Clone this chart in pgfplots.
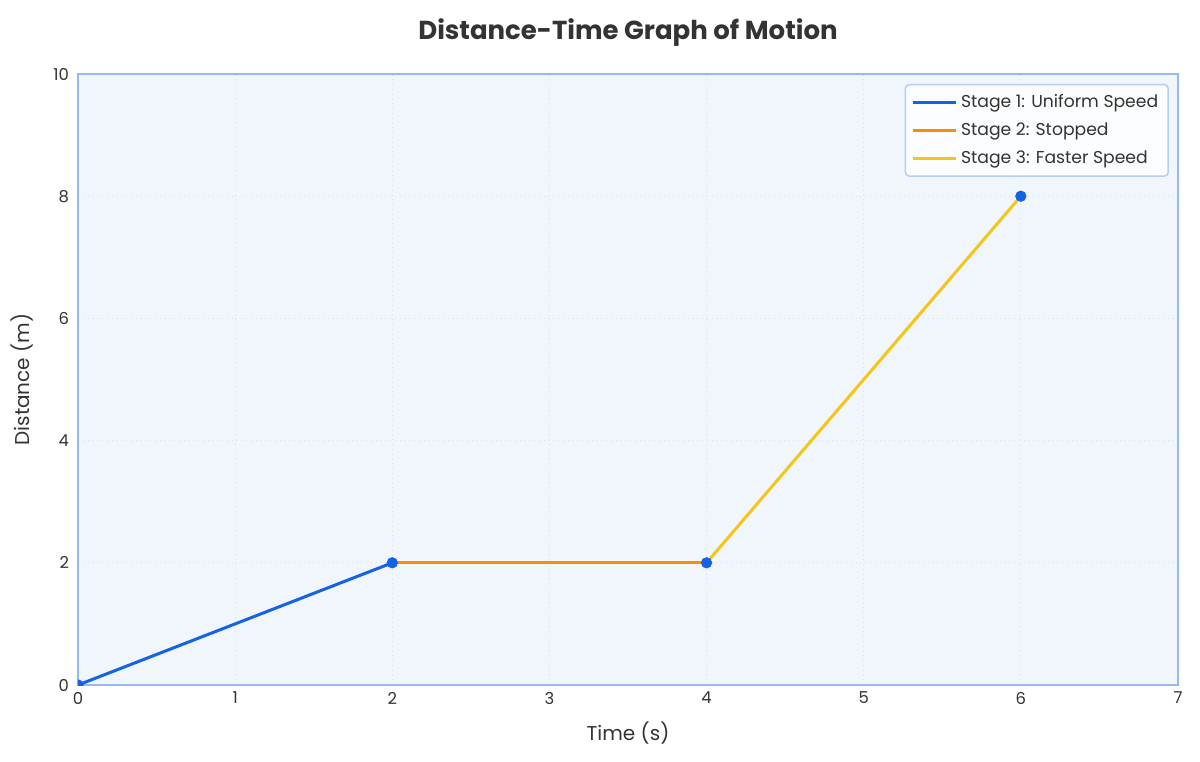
\documentclass[border=0pt]{standalone}
\usepackage{fontspec}
\setmainfont{Poppins}
\usepackage{pgfplots}
\pgfplotsset{compat=1.18}

\definecolor{bgblue}{HTML}{F1F6FD}
\definecolor{frameblue}{HTML}{94B9F4}
\definecolor{gridc}{HTML}{D8E0EC}
\definecolor{s1}{HTML}{1463E6}
\definecolor{s2}{HTML}{FF8C00}
\definecolor{s3}{HTML}{F5C518}
\definecolor{txt}{HTML}{333333}

\begin{document}
\begin{tikzpicture}
  % page frame: 1200 x 761 px at 0.5pt per px
  \path (0,0) rectangle (600pt,380.5pt);
  \begin{axis}[
    at={(39pt,38pt)}, anchor=south west,
    scale only axis, width=550pt, height=305.5pt,
    xmin=0, xmax=7, ymin=0, ymax=10,
    xtick={0,...,7}, ytick={0,2,...,10},
    axis background/.style={fill=bgblue},
    axis line style={frameblue, line width=1pt},
    major tick length=0pt,
    grid=major,
    major grid style={gridc, dotted, line width=0.5pt},
    tick label style={font=\fontsize{8.2}{9}\selectfont, text=txt},
    /pgf/number format/assume math mode=true,
    xticklabel style={yshift=0pt},
    yticklabel style={xshift=-1pt},
    xlabel={Time (s)}, ylabel={Distance (m)},
    label style={font=\fontsize{10}{11}\selectfont, text=txt},
    xlabel style={yshift=-2pt},
    ylabel style={yshift=3pt},
    title={\textbf{Distance-Time Graph of Motion}},
    title style={font=\fontsize{13}{14}\selectfont, text=txt, yshift=4.5pt},
    clip marker paths=true,
    legend style={at={(0.9918,0.984)}, anchor=north east,
      draw=frameblue!70, line width=0.8pt, rounded corners=2pt,
      fill=white, fill opacity=0.85, text opacity=1,
      font=\fontsize{8.6}{10}\selectfont, text=txt,
      row sep=2pt, inner xsep=3pt, inner ysep=3pt},
    legend cell align=left,
    legend image code/.code={\draw[#1] (0cm,0cm) -- (0.75cm,0cm);},
  ]
    \addplot[s1, line width=1.5pt] coordinates {(0,0) (2,2)};
    \addlegendentry{Stage 1: Uniform Speed}
    \addplot[s2, line width=1.5pt] coordinates {(2,2) (4,2)};
    \addlegendentry{Stage 2: Stopped}
    \addplot[s3, line width=1.5pt] coordinates {(4,2) (6,8)};
    \addlegendentry{Stage 3: Faster Speed}
    \addplot[only marks, mark=*, mark size=2.6pt, color=s1, forget plot]
      coordinates {(0,0) (2,2) (4,2) (6,8)};
  \end{axis}
\end{tikzpicture}
\end{document}
